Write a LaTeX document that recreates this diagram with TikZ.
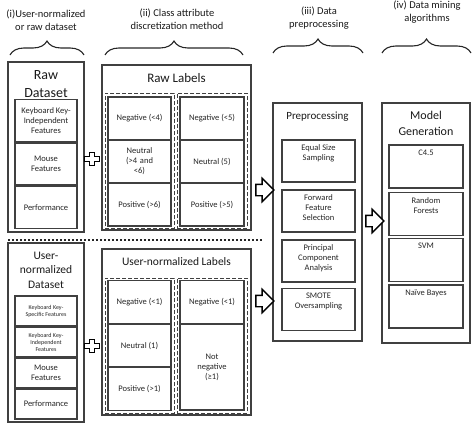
\documentclass[tikz,border=0pt]{standalone}
\usepackage{fontspec}
\setmainfont{Carlito}
\usetikzlibrary{positioning, shapes.arrows, decorations.pathreplacing}
\tikzset{
    outerbox/.style={draw=black!75, line width=1.3pt, rectangle, inner sep=0pt},
    dashcol/.style={draw=black!75, line width=1pt, dash pattern=on 4pt off 2pt, rectangle, inner sep=0pt},
    cellfont/.style={font=\fontsize{8.5}{10}\selectfont, text=black!85},
    cellbox/.style={draw=black!75, line width=1.1pt, rectangle, fill=white, inner sep=1pt, align=center, cellfont},
    topcell/.style={cellbox, label={[anchor=north, yshift=-5pt, inner sep=0pt, align=center, cellfont]north:#1}},
    boxtitle/.style={font=\fontsize{13}{15.5}\selectfont, text=black!90, align=center, inner sep=0pt},
    header/.style={font=\fontsize{10.5}{13.5}\selectfont, text=black!90, align=center, inner sep=0pt},
    hollowarrow/.style={single arrow, draw=black, line width=1.4pt, fill=white, minimum height=18pt, inner sep=0pt, text height=10pt, text depth=0pt, single arrow head extend=6pt, single arrow head indent=0pt},
    stagebrace/.style={decorate, decoration={brace, amplitude=14pt}, draw=black!85, line width=1.1pt},
    hplus/.pic={\draw[line width=1.2pt, fill=white] (-2.5,-6.5) -- (2.5,-6.5) -- (2.5,-2.5) -- (7.5,-2.5) -- (7.5,2.5) -- (2.5,2.5) -- (2.5,6.5) -- (-2.5,6.5) -- (-2.5,2.5) -- (-7.5,2.5) -- (-7.5,-2.5) -- (-2.5,-2.5) -- cycle;}
}

\begin{document}
\begin{tikzpicture}[x=1pt, y=-1pt]
    \useasboundingbox (0,0) rectangle (474,423);

    % stage headers
    \node (hdata) [header] at (46,20) {(i)User-normalized\\or raw dataset};
    \node (hclass) [header] at (177,19) {(ii) Class attribute\\discretization method};
    \node (hprep) [header] at (319,18) {(iii) Data\\preprocessing};
    \node (hmine) [header] at (427,12) {(iv) Data mining\\algorithms};
    \draw [stagebrace] (10,55) -- (84,55);
    \draw [stagebrace] (105,55) -- (243,55);
    \draw [stagebrace] (273,53) -- (363,53);
    \draw [stagebrace] (382,53) -- (471,53);

    % raw dataset
    \node (rawds) [outerbox, minimum width=76pt, minimum height=170pt] at (46,147) {};
    \node (rawdstitle) [boxtitle, font=\fontsize{14}{17.5}\selectfont] at (46,84) {Raw\\Dataset};
    \node (rawkbi) [cellbox, minimum width=62pt, minimum height=42pt] at (46,120.5) {Keyboard Key-\\Independent\\Features};
    \node (rawmouse) [cellbox, minimum width=62pt, minimum height=42pt] at (46,164) {Mouse\\Features};
    \node (rawperf) [cellbox, minimum width=62pt, minimum height=42pt] at (46,207.5) {Performance};

    % raw labels
    \node (rawlab) [outerbox, minimum width=149pt, minimum height=165pt] at (176.5,147.5) {};
    \node (rawlabtitle) [boxtitle] at (176.5,78) {Raw Labels};
    \node (rawcolA) [dashcol, minimum width=69pt, minimum height=135pt] at (139.5,160.5) {};
    \node (rawcolB) [dashcol, minimum width=70pt, minimum height=135pt] at (212,160.5) {};
    \node (rawnegA) [cellbox, minimum width=63pt, minimum height=43pt] at (139.5,118.5) {Negative (<4)};
    \node (rawneuA) [cellbox, minimum width=63pt, minimum height=43pt, text width=38pt] at (139.5,161.5) {Neutral\\(>4 and\\<6)};
    \node (rawposA) [cellbox, minimum width=63pt, minimum height=43pt] at (139.5,204.5) {Positive (>6)};
    \node (rawnegB) [cellbox, minimum width=64pt, minimum height=43pt] at (212,118.5) {Negative (<5)};
    \node (rawneuB) [cellbox, minimum width=64pt, minimum height=43pt] at (212,161.5) {Neutral (5)};
    \node (rawposB) [cellbox, minimum width=64pt, minimum height=43pt] at (212,204.5) {Positive (>5)};

    \pic at (92,159) {hplus};
    \draw [line width=2pt, dash pattern=on 2pt off 2pt, black!85] (8,240) -- (262,240);

    % user-normalized dataset
    \node (usrds) [outerbox, minimum width=76pt, minimum height=179pt] at (46,332.5) {};
    \node (usrdstitle) [boxtitle, font=\fontsize{11.5}{14.5}\selectfont] at (46,270) {User-\\normalized\\Dataset};
    \node (usrkbs) [cellbox, minimum width=62pt, minimum height=30pt, font=\fontsize{6}{7}\selectfont] at (46,311) {Keyboard Key-\\Specific Features};
    \node (usrkbi) [cellbox, minimum width=62pt, minimum height=30pt, font=\fontsize{6}{7}\selectfont] at (46,342) {Keyboard Key-\\Independent\\Features};
    \node (usrmouse) [cellbox, minimum width=62pt, minimum height=30pt] at (46,373) {Mouse\\Features};
    \node (usrperf) [cellbox, minimum width=62pt, minimum height=30pt] at (46,404) {Performance};

    % user-normalized labels
    \node (usrlab) [outerbox, minimum width=149pt, minimum height=166pt] at (176.5,332) {};
    \node (usrlabtitle) [boxtitle, font=\fontsize{11.5}{14}\selectfont] at (176.5,262) {User-normalized Labels};
    \node (usrcolA) [dashcol, minimum width=69pt, minimum height=135pt] at (139.5,345.5) {};
    \node (usrcolB) [dashcol, minimum width=70pt, minimum height=135pt] at (212,345.5) {};
    \node (usrnegA) [cellbox, minimum width=63pt, minimum height=43pt] at (139.5,302) {Negative (<1)};
    \node (usrneuA) [cellbox, minimum width=63pt, minimum height=43pt] at (139.5,345.5) {Neutral (1)};
    \node (usrposA) [cellbox, minimum width=63pt, minimum height=43pt] at (139.5,389) {Positive (>1)};
    \node (usrnegB) [cellbox, minimum width=64pt, minimum height=43pt] at (212,302) {Negative (<1)};
    \node (usrnotneg) [cellbox, minimum width=64pt, minimum height=86pt] at (212,367) {Not\\negative\\(≥1)};

    \pic at (92,346) {hplus};

    % preprocessing
    \node (prep) [outerbox, minimum width=89pt, minimum height=238pt] at (317.5,222) {};
    \node (preptitle) [boxtitle, font=\fontsize{11}{13.5}\selectfont] at (317.5,117) {Preprocessing};
    \node (eqsize) [topcell={Equal Size\\Sampling}, minimum width=73pt, minimum height=42pt] at (318.5,161) {};
    \node (ffs) [topcell={Forward\\Feature\\Selection}, minimum width=73pt, minimum height=42pt] at (318.5,211) {};
    \node (pca) [topcell={Principal\\Component\\Analysis}, minimum width=73pt, minimum height=42pt] at (318.5,261) {};
    \node (smote) [topcell={SMOTE\\Oversampling}, minimum width=73pt, minimum height=42pt] at (318.5,309.5) {};

    % model generation
    \node (model) [outerbox, minimum width=88pt, minimum height=240pt] at (426,223) {};
    \node (modeltitle) [boxtitle, font=\fontsize{12}{16}\selectfont] at (426,123.5) {Model\\Generation};
    \node (cfour) [topcell={C4.5}, minimum width=74pt, minimum height=43pt] at (426,166.5) {};
    \node (rforest) [topcell={Random\\Forests}, minimum width=74pt, minimum height=43pt] at (426,214) {};
    \node (svm) [topcell={SVM}, minimum width=74pt, minimum height=43pt] at (426,260) {};
    \node (nbayes) [topcell={Naïve Bayes}, minimum width=74pt, minimum height=43pt] at (426,306.5) {};

    % flow arrows
    \node (arrraw) [hollowarrow] at (262,190) {};
    \node (arrusr) [hollowarrow] at (262,301) {};
    \node (arrprep) [hollowarrow] at (372,221) {};
\end{tikzpicture}
\end{document}
